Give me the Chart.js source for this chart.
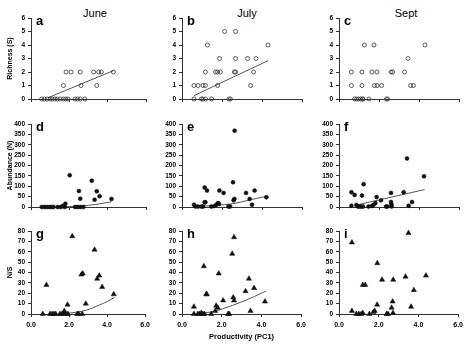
<!DOCTYPE html>
<html>
<head>
<meta charset="utf-8">
<script src="https://cdn.jsdelivr.net/npm/chart.js@4"></script>
<style>
  body { margin: 0; background: #fff; }
  #wrap { position: relative; width: 474px; height: 345px; overflow: hidden; font-family: Arial, "Liberation Sans", sans-serif; }
  #wrap canvas { position: absolute; }
  .month { position: absolute; top: 7px; font-size: 11px; line-height: 13px; color: #000; transform: translateX(-50%); }
</style>
</head>
<body>
<div id="wrap">
  <div class="month" style="left:95px">June</div>
  <div class="month" style="left:247px">July</div>
  <div class="month" style="left:406px">Sept</div>
</div>
<script>
// Richness (S)
const juneRichX = [0.56, 0.70, 0.84, 1.0, 1.11, 1.25, 1.37, 1.51, 1.69, 1.81, 1.93, 2.30, 2.43, 2.57, 2.81, 1.69, 2.61, 3.43, 1.83, 2.09, 2.57, 3.27, 3.53, 3.67, 4.30];
const juneRichY = [0, 0, 0, 0, 0, 0, 0, 0, 0, 0, 0, 0, 0, 0, 0, 1, 1, 1, 2, 2, 2, 2, 2, 2, 2];
const juneRichFitX = [0.9, 4.3];
const juneRichFitY = [0.1, 2.1];

const julyRichX = [0.6, 0.97, 1.05, 1.18, 1.48, 2.35, 2.42, 0.6, 0.8, 1.05, 1.17, 1.78, 3.43, 1.17, 1.68, 1.78, 1.92, 2.62, 2.68, 3.58, 1.88, 2.68, 3.28, 3.7, 1.27, 4.3, 2.13, 2.68];
const julyRichY = [0, 0, 0, 0, 0, 0, 0, 1, 1, 1, 1, 1, 1, 2, 2, 2, 2, 2, 2, 2, 3, 3, 3, 3, 4, 4, 5, 5];
const julyRichFitX = [0.6, 4.3];
const julyRichFitY = [0.25, 2.84];

const septRichX = [0.78, 0.88, 0.98, 1.08, 1.17, 1.2, 1.5, 2.37, 2.43, 0.62, 1.15, 1.77, 1.9, 2.13, 3.58, 3.72, 0.62, 1.15, 1.65, 1.9, 2.6, 2.68, 3.28, 3.45, 1.27, 1.75, 4.3];
const septRichY = [0, 0, 0, 0, 0, 0, 0, 0, 0, 1, 1, 1, 1, 1, 1, 1, 2, 2, 2, 2, 2, 2, 2, 3, 4, 4, 4];

// Abundance (N)
const juneAbunX = [0.56, 0.7, 0.83, 0.96, 1.08, 1.17, 1.39, 1.55, 1.65, 1.76, 1.79, 2.02, 2.3, 2.43, 2.5, 2.57, 2.57, 2.73, 3.17, 3.32, 3.43, 3.58, 4.2];
const juneAbunY = [0, 0, 0, 0, 0, 0, 0, 0, 5, 0, 16, 153, 0, 0, 77, 0, 40, 0, 127, 35, 76, 52, 39];
const juneAbunFitX = [0.6, 1.5, 2.5, 3.0, 3.5, 4.2];
const juneAbunFitY = [0, 1, 4, 8, 14, 25];

const julyAbunX = [0.6, 0.67, 0.8, 0.97, 1.05, 1.13, 1.17, 1.13, 1.25, 1.47, 1.63, 1.72, 1.8, 1.85, 1.87, 2.08, 2.32, 2.4, 2.55, 2.58, 2.62, 2.63, 3.2, 3.38, 3.5, 3.63, 4.22];
const julyAbunY = [11, 3, 2, 2, 2, 23, 23, 94, 79, 2, 5, 11, 19, 15, 79, 68, 2, 2, 119, 32, 39, 368, 68, 39, 11, 79, 47];
const julyAbunFitX = [0.55, 1.72, 2.55, 3.38, 4.22];
const julyAbunFitY = [2, 8, 16, 34, 52];

const septAbunX = [0.62, 0.78, 0.62, 0.87, 0.95, 1.03, 1.12, 1.2, 1.15, 1.23, 1.48, 1.65, 1.73, 1.82, 1.88, 2.1, 2.35, 2.42, 2.6, 2.6, 2.62, 2.63, 3.23, 3.4, 3.48, 3.65, 4.25];
const septAbunY = [71, 58, 6, 10, 2, 2, 2, 2, 55, 110, 2, 5, 11, 19, 48, 32, 2, 2, 68, 24, 13, 3, 71, 234, 6, 24, 148];
const septAbunFitX = [0.95, 4.28];
const septAbunFitY = [11, 84];

// N/S
const juneRatioX = [0.62, 0.81, 1.0, 1.11, 1.21, 1.3, 1.52, 1.63, 1.75, 1.75, 1.82, 1.92, 1.94, 2.17, 2.43, 2.51, 2.69, 2.65, 2.72, 2.88, 3.34, 3.48, 3.59, 3.74, 4.35];
const juneRatioY = [0, 28, 0, 0, 0, 0, 0, 0, 3, 1, 0, 9, 0, 75, 0, 0, 0, 38, 39, 10, 62, 34, 37, 26, 19];
const juneRatioFitX = [1.8, 2.4, 2.9, 3.6, 4.0, 4.38];
const juneRatioFitY = [0.5, 1.8, 3.6, 8.7, 12, 16];

const julyRatioX = [0.6, 0.6, 0.8, 0.88, 0.97, 1.05, 1.13, 1.1, 1.22, 1.25, 1.47, 1.67, 1.72, 1.8, 1.85, 2.07, 2.32, 2.38, 2.53, 2.62, 2.58, 2.62, 3.2, 3.37, 3.45, 3.63, 4.18];
const julyRatioY = [7, 0, 0, 0, 1, 0, 0, 46, 19, 19, 0, 3, 8, 6, 39, 13, 0, 0, 58, 74, 16, 13, 22, 34, 3, 25, 12];
const julyRatioFitX = [0.7, 1.5, 2.05, 3.05, 3.6, 4.22];
const julyRatioFitY = [0.5, 2, 5, 12, 16.5, 22];

const septRatioX = [0.65, 0.65, 0.87, 1.0, 1.12, 1.2, 1.2, 1.32, 1.53, 1.73, 1.8, 1.92, 1.93, 2.17, 2.4, 2.47, 2.65, 2.7, 2.72, 2.73, 3.35, 3.5, 3.63, 3.77, 4.38];
const septRatioY = [69, 3, 0, 0, 0, 1, 28, 28, 0, 2, 3, 9, 49, 33, 0, 0, 6, 12, 1, 33, 36, 78, 7, 23, 37];

const xTicks = [0, 2, 4, 6];
const rowTitles = ['Richness (S)', 'Abundance (N)', 'N/S'];
const rowMax = [6, 400, 80];
const rowStep = [1, 50, 10];

// panel grid (plot area edges in page pixels)
const colLeft = [31, 182, 339], colRight = [146, 302, 459];
const rowTop = [18, 124, 231], rowBottom = [99, 207, 314];

const FONT = 'Arial, "Liberation Sans", sans-serif';
const INK = '#111';
const AXIS = '#333';

const panelLetter = {
  id: 'panelLetter',
  afterDraw(chart, args, opts) {
    const { ctx, chartArea } = chart;
    ctx.save();
    ctx.font = 'bold 13px ' + FONT;
    ctx.fillStyle = '#000';
    ctx.textBaseline = 'alphabetic';
    ctx.fillText(opts.text, chartArea.left + 5, chartArea.top + 7);
    ctx.restore();
  }
};

const toPoints = (xs, ys) => xs.map((x, i) => ({ x: x, y: ys[i] }));

function drawPanel(p) {
  const yw = p.col === 0 ? 31 : 24;
  const xh = p.row === 2 ? 31 : 8;
  const padTop = 8, padRight = 8;
  const plotW = colRight[p.col] - colLeft[p.col];
  const plotH = rowBottom[p.row] - rowTop[p.row];

  const cv = document.createElement('canvas');
  cv.width = yw + plotW + padRight;
  cv.height = padTop + plotH + xh;
  cv.style.left = (colLeft[p.col] - yw) + 'px';
  cv.style.top = (rowTop[p.row] - padTop) + 'px';
  document.getElementById('wrap').appendChild(cv);

  const marker = p.row === 0
    ? { pointStyle: 'circle', pointRadius: 2, pointBorderColor: '#333', pointBackgroundColor: 'rgba(0,0,0,0)', pointBorderWidth: 0.8 }
    : p.row === 1
      ? { pointStyle: 'circle', pointRadius: 2, pointBorderColor: INK, pointBackgroundColor: INK, pointBorderWidth: 0.5 }
      : { pointStyle: 'triangle', pointRadius: 3, pointBorderColor: INK, pointBackgroundColor: INK, pointBorderWidth: 0.5 };

  const datasets = [Object.assign({ data: toPoints(p.x, p.y), clip: false }, marker)];
  if (p.fitX) {
    datasets.push({
      data: toPoints(p.fitX, p.fitY),
      showLine: true,
      pointRadius: 0,
      borderColor: '#555',
      borderWidth: 1,
      cubicInterpolationMode: 'monotone',
      clip: false
    });
  }

  new Chart(cv, {
    type: 'scatter',
    data: { datasets: datasets },
    plugins: [panelLetter],
    options: {
      responsive: false,
      animation: false,
      events: [],
      layout: { padding: { top: padTop, right: padRight, left: 0, bottom: 0 } },
      plugins: {
        legend: { display: false },
        tooltip: { enabled: false },
        panelLetter: { text: p.id }
      },
      scales: {
        x: {
          type: 'linear',
          min: 0,
          max: 6,
          afterBuildTicks: s => { s.ticks = xTicks.map(v => ({ value: v })); },
          afterFit: s => { s.height = xh; },
          ticks: {
            color: '#000',
            padding: 4,
            maxRotation: 0,
            font: { family: FONT, size: 7, weight: 'bold' },
            callback: v => p.row === 2 ? v.toFixed(1) : ''
          },
          grid: { drawOnChartArea: false, tickLength: 3, color: AXIS },
          border: { color: AXIS },
          title: {
            display: p.id === 'h',
            text: 'Productivity (PC1)',
            color: '#000',
            padding: { top: 0, bottom: 4 },
            font: { family: FONT, size: 7.5, weight: 'bold' }
          }
        },
        y: {
          min: 0,
          max: rowMax[p.row],
          afterFit: s => { s.width = yw; },
          ticks: {
            stepSize: rowStep[p.row],
            autoSkip: false,
            color: '#000',
            padding: 3,
            font: { family: FONT, size: 6.5, weight: 'bold' }
          },
          grid: { drawOnChartArea: false, tickLength: 3, color: AXIS },
          border: { color: AXIS },
          title: {
            display: p.col === 0,
            text: rowTitles[p.row],
            color: '#000',
            padding: { top: 5.5, bottom: 0 },
            font: { family: FONT, size: 7, weight: 'bold' }
          }
        }
      }
    }
  });
}

[
  { id: 'a', row: 0, col: 0, x: juneRichX, y: juneRichY, fitX: juneRichFitX, fitY: juneRichFitY },
  { id: 'b', row: 0, col: 1, x: julyRichX, y: julyRichY, fitX: julyRichFitX, fitY: julyRichFitY },
  { id: 'c', row: 0, col: 2, x: septRichX, y: septRichY },
  { id: 'd', row: 1, col: 0, x: juneAbunX, y: juneAbunY, fitX: juneAbunFitX, fitY: juneAbunFitY },
  { id: 'e', row: 1, col: 1, x: julyAbunX, y: julyAbunY, fitX: julyAbunFitX, fitY: julyAbunFitY },
  { id: 'f', row: 1, col: 2, x: septAbunX, y: septAbunY, fitX: septAbunFitX, fitY: septAbunFitY },
  { id: 'g', row: 2, col: 0, x: juneRatioX, y: juneRatioY, fitX: juneRatioFitX, fitY: juneRatioFitY },
  { id: 'h', row: 2, col: 1, x: julyRatioX, y: julyRatioY, fitX: julyRatioFitX, fitY: julyRatioFitY },
  { id: 'i', row: 2, col: 2, x: septRatioX, y: septRatioY }
].forEach(drawPanel);
</script>
</body>
</html>
